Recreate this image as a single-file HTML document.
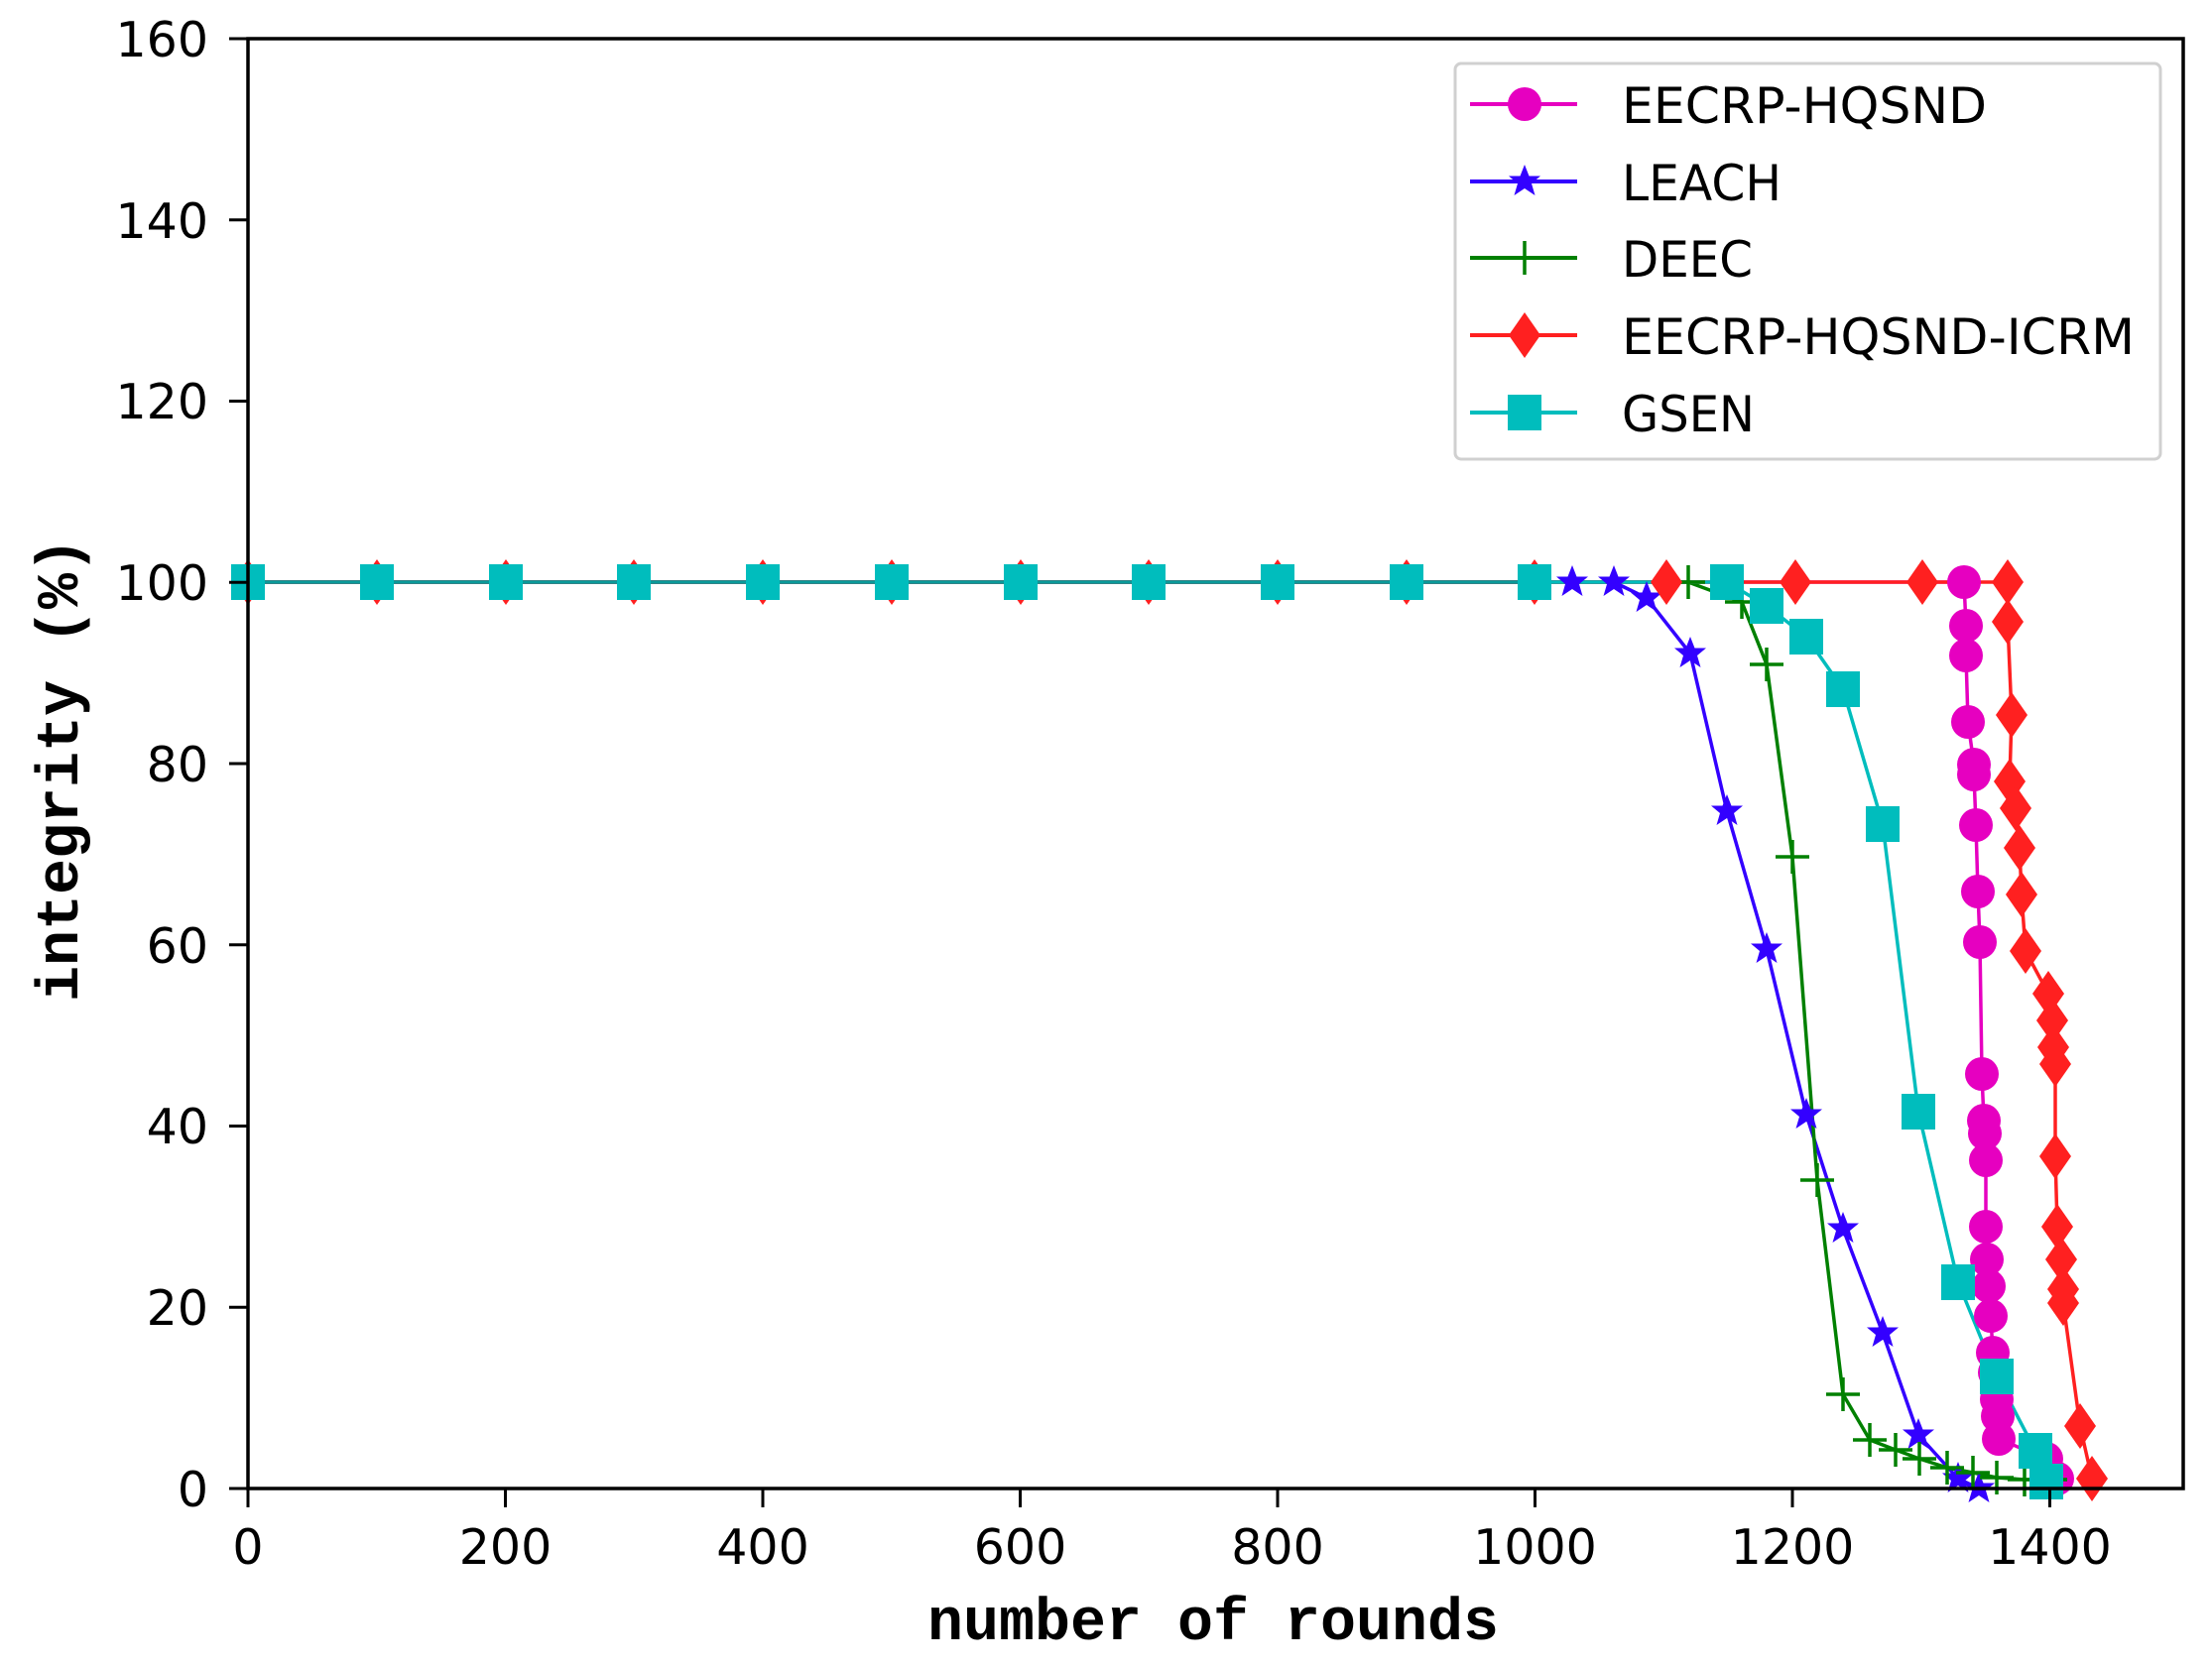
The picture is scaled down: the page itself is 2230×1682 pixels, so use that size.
<!DOCTYPE html>
<html><head><meta charset="utf-8"><style>html,body{margin:0;padding:0;background:#fff}svg{display:block}</style></head><body>
<svg width="2230" height="1682" viewBox="0 0 2230 1682" xmlns="http://www.w3.org/2000/svg">
<defs>
<ellipse id="mc" cx="0" cy="0" rx="17" ry="17" fill="#e600c0"/>
<path id="ms" d="M0,-17 L4.5,-5.5 L16,-5.5 L7,2 L10.5,14 L0,7 L-10.5,14 L-7,2 L-16,-5.5 L-4.5,-5.5 Z" fill="#3300ff"/>
<path id="mp" d="M-17,0 H17 M0,-17 V17" stroke="#008000" stroke-width="3.5" fill="none"/>
<path id="md" d="M0,-23 L16,0 L0,23 L-16,0 Z" fill="#ff2020"/>
<rect id="mq" x="-17" y="-18" width="34" height="36" fill="#00bdbd"/>
</defs>
<rect width="2230" height="1682" fill="#fff"/>

<g fill="none" stroke-width="3.5" stroke-linejoin="round">
<!-- pink -->
<polyline stroke="#e600c0" points="250,587 1980,587 1982,631 1982,661 1984,728 1990,771 1990,781 1992,832 1994,899 1996,950 1998,1083 2000,1130 2001,1143 2002,1170 2002,1237 2003,1270 2005,1297 2007,1327 2009,1364 2011,1384 2013,1411 2014,1428 2015,1451 2063,1471 2074,1491 2080,1501"/>
<!-- blue -->
<polyline stroke="#3300ff" points="250,587 1585,587 1627,587 1660,603 1704,659 1741,818 1781,957 1821,1124 1858,1239 1898,1344 1934,1447 1974,1491 1995,1501"/>
<!-- green -->
<polyline stroke="#008000" points="250,587 1702,587 1756,607 1781,670 1807,864 1832,1190 1858,1406 1885,1452 1911,1462 1935,1471 1963,1480 1989,1485 2013,1490 2041,1492 2067,1492"/>
<!-- red -->
<polyline stroke="#ff2020" points="250,587 1680,587 1810,587 1938,587 2024,587 2024,627 2028,721 2026,788 2032,815 2036,855 2038,902 2042,959 2065,1002 2069,1029 2070,1056 2072,1073 2072,1166 2074,1237 2078,1270 2080,1300 2080,1314 2097,1438 2109,1491 2112,1501"/>
<!-- cyan -->
<polyline stroke="#00bdbd" points="1547,587 1741,587 1781,611 1821,642 1858,695 1898,831 1934,1121 1974,1293 2013,1388 2052,1463 2063,1494"/>
<line x1="250" y1="587" x2="1547" y2="587" stroke="#0a9a9a"/>
</g>

<!-- pink markers -->
<g>
<use href="#mc" x="1980" y="587"/><use href="#mc" x="1982" y="631"/><use href="#mc" x="1982" y="661"/><use href="#mc" x="1984" y="728"/><use href="#mc" x="1990" y="771"/><use href="#mc" x="1990" y="781"/><use href="#mc" x="1992" y="832"/><use href="#mc" x="1994" y="899"/><use href="#mc" x="1996" y="950"/><use href="#mc" x="1998" y="1083"/><use href="#mc" x="2000" y="1130"/><use href="#mc" x="2001" y="1143"/><use href="#mc" x="2002" y="1170"/><use href="#mc" x="2002" y="1237"/><use href="#mc" x="2003" y="1270"/><use href="#mc" x="2005" y="1297"/><use href="#mc" x="2007" y="1327"/><use href="#mc" x="2009" y="1364"/><use href="#mc" x="2011" y="1384"/><use href="#mc" x="2013" y="1411"/><use href="#mc" x="2014" y="1428"/><use href="#mc" x="2015" y="1451"/><use href="#mc" x="2063" y="1471"/><use href="#mc" x="2074" y="1491"/>
</g>
<!-- blue markers -->
<g>
<use href="#ms" x="1585" y="587"/><use href="#ms" x="1627" y="587"/><use href="#ms" x="1660" y="603"/><use href="#ms" x="1704" y="659"/><use href="#ms" x="1741" y="818"/><use href="#ms" x="1781" y="957"/><use href="#ms" x="1821" y="1124"/><use href="#ms" x="1858" y="1239"/><use href="#ms" x="1898" y="1344"/><use href="#ms" x="1934" y="1447"/><use href="#ms" x="1974" y="1491"/><use href="#ms" x="1995" y="1501"/>
</g>
<!-- green markers -->
<g>
<use href="#mp" x="1702" y="587"/><use href="#mp" x="1756" y="607"/><use href="#mp" x="1781" y="670"/><use href="#mp" x="1807" y="864"/><use href="#mp" x="1832" y="1190"/><use href="#mp" x="1858" y="1406"/><use href="#mp" x="1885" y="1452"/><use href="#mp" x="1911" y="1462"/><use href="#mp" x="1935" y="1471"/><use href="#mp" x="1963" y="1480"/><use href="#mp" x="1989" y="1485"/><use href="#mp" x="2013" y="1490"/><use href="#mp" x="2041" y="1492"/><use href="#mp" x="2067" y="1492"/>
</g>
<!-- red markers -->
<g>
<use href="#md" x="250" y="587"/><use href="#md" x="380" y="587"/><use href="#md" x="510" y="587"/><use href="#md" x="639" y="587"/><use href="#md" x="769" y="587"/><use href="#md" x="899" y="587"/><use href="#md" x="1029" y="587"/><use href="#md" x="1158" y="587"/><use href="#md" x="1288" y="587"/><use href="#md" x="1418" y="587"/><use href="#md" x="1547" y="587"/>
<use href="#md" x="1680" y="587"/><use href="#md" x="1810" y="587"/><use href="#md" x="1938" y="587"/><use href="#md" x="2024" y="587"/><use href="#md" x="2024" y="627"/><use href="#md" x="2028" y="721"/><use href="#md" x="2026" y="788"/><use href="#md" x="2032" y="815"/><use href="#md" x="2036" y="855"/><use href="#md" x="2038" y="902"/><use href="#md" x="2042" y="959"/><use href="#md" x="2065" y="1002"/><use href="#md" x="2069" y="1029"/><use href="#md" x="2070" y="1056"/><use href="#md" x="2072" y="1073"/><use href="#md" x="2072" y="1166"/><use href="#md" x="2074" y="1237"/><use href="#md" x="2078" y="1270"/><use href="#md" x="2080" y="1300"/><use href="#md" x="2080" y="1314"/><use href="#md" x="2097" y="1438"/><use href="#md" x="2109" y="1491"/>
</g>
<!-- cyan markers -->
<g>
<use href="#mq" x="250" y="587"/><use href="#mq" x="380" y="587"/><use href="#mq" x="510" y="587"/><use href="#mq" x="639" y="587"/><use href="#mq" x="769" y="587"/><use href="#mq" x="899" y="587"/><use href="#mq" x="1029" y="587"/><use href="#mq" x="1158" y="587"/><use href="#mq" x="1288" y="587"/><use href="#mq" x="1418" y="587"/><use href="#mq" x="1547" y="587"/>
<use href="#mq" x="1741" y="587"/><use href="#mq" x="1781" y="611"/><use href="#mq" x="1821" y="642"/><use href="#mq" x="1858" y="695"/><use href="#mq" x="1898" y="831"/><use href="#mq" x="1934" y="1121"/><use href="#mq" x="1974" y="1293"/><use href="#mq" x="2013" y="1388"/><use href="#mq" x="2052" y="1463"/><use href="#mq" x="2063" y="1494"/>
</g>

<!-- axes frame -->
<rect x="250" y="39" width="1951" height="1462" fill="none" stroke="#000" stroke-width="3.5"/>
<g stroke="#000" stroke-width="3">
<line x1="250" y1="1501" x2="250" y2="1520"/><line x1="509.5" y1="1501" x2="509.5" y2="1520"/><line x1="769" y1="1501" x2="769" y2="1520"/><line x1="1028.5" y1="1501" x2="1028.5" y2="1520"/><line x1="1288" y1="1501" x2="1288" y2="1520"/><line x1="1547.5" y1="1501" x2="1547.5" y2="1520"/><line x1="1807" y1="1501" x2="1807" y2="1520"/><line x1="2066.5" y1="1501" x2="2066.5" y2="1520"/>
<line x1="231" y1="1501" x2="250" y2="1501"/><line x1="231" y1="1318.3" x2="250" y2="1318.3"/><line x1="231" y1="1135.5" x2="250" y2="1135.5"/><line x1="231" y1="952.8" x2="250" y2="952.8"/><line x1="231" y1="770" x2="250" y2="770"/><line x1="231" y1="587.3" x2="250" y2="587.3"/><line x1="231" y1="404.5" x2="250" y2="404.5"/><line x1="231" y1="221.8" x2="250" y2="221.8"/><line x1="231" y1="39" x2="250" y2="39"/>
</g>
<g font-family="'DejaVu Sans','Liberation Sans',sans-serif" font-size="49" fill="#000">
<g text-anchor="middle">
<text x="250" y="1577">0</text><text x="509.5" y="1577">200</text><text x="769" y="1577">400</text><text x="1028.5" y="1577">600</text><text x="1288" y="1577">800</text><text x="1547.5" y="1577">1000</text><text x="1807" y="1577">1200</text><text x="2066.5" y="1577">1400</text>
</g>
<g text-anchor="end">
<text x="210" y="1519">0</text><text x="210" y="1336">20</text><text x="210" y="1153">40</text><text x="210" y="971">60</text><text x="210" y="788">80</text><text x="210" y="605">100</text><text x="210" y="422">120</text><text x="210" y="240">140</text><text x="210" y="57">160</text>
</g>
</g>
<text x="1223" y="1653" text-anchor="middle" font-family="'Liberation Mono','DejaVu Sans Mono',monospace" font-weight="bold" font-size="60">number of rounds</text>
<text transform="translate(78,776) rotate(-90)" text-anchor="middle" font-family="'Liberation Mono','DejaVu Sans Mono',monospace" font-weight="bold" font-size="60">integrity (%)</text>

<!-- legend -->
<rect x="1467" y="64" width="711" height="399" rx="6" fill="#fff" stroke="#d0d0d0" stroke-width="3"/>
<g stroke-width="4">
<line x1="1482" y1="105" x2="1590" y2="105" stroke="#e600c0"/>
<line x1="1482" y1="183" x2="1590" y2="183" stroke="#3300ff"/>
<line x1="1482" y1="260" x2="1590" y2="260" stroke="#008000"/>
<line x1="1482" y1="338" x2="1590" y2="338" stroke="#ff2020"/>
<line x1="1482" y1="416" x2="1590" y2="416" stroke="#00bdbd"/>
</g>
<use href="#mc" x="1537" y="105"/><use href="#ms" x="1537" y="183"/><use href="#mp" x="1537" y="260"/><use href="#md" x="1537" y="338"/><use href="#mq" x="1537" y="416"/>
<g font-family="'DejaVu Sans','Liberation Sans',sans-serif" font-size="50" fill="#000">
<text x="1635" y="124" textLength="368" lengthAdjust="spacingAndGlyphs">EECRP-HQSND</text>
<text x="1635" y="202" textLength="161" lengthAdjust="spacingAndGlyphs">LEACH</text>
<text x="1635" y="279" textLength="132" lengthAdjust="spacingAndGlyphs">DEEC</text>
<text x="1635" y="357" textLength="517" lengthAdjust="spacingAndGlyphs">EECRP-HQSND-ICRM</text>
<text x="1635" y="435" textLength="134" lengthAdjust="spacingAndGlyphs">GSEN</text>
</g>
</svg>
</body></html>
